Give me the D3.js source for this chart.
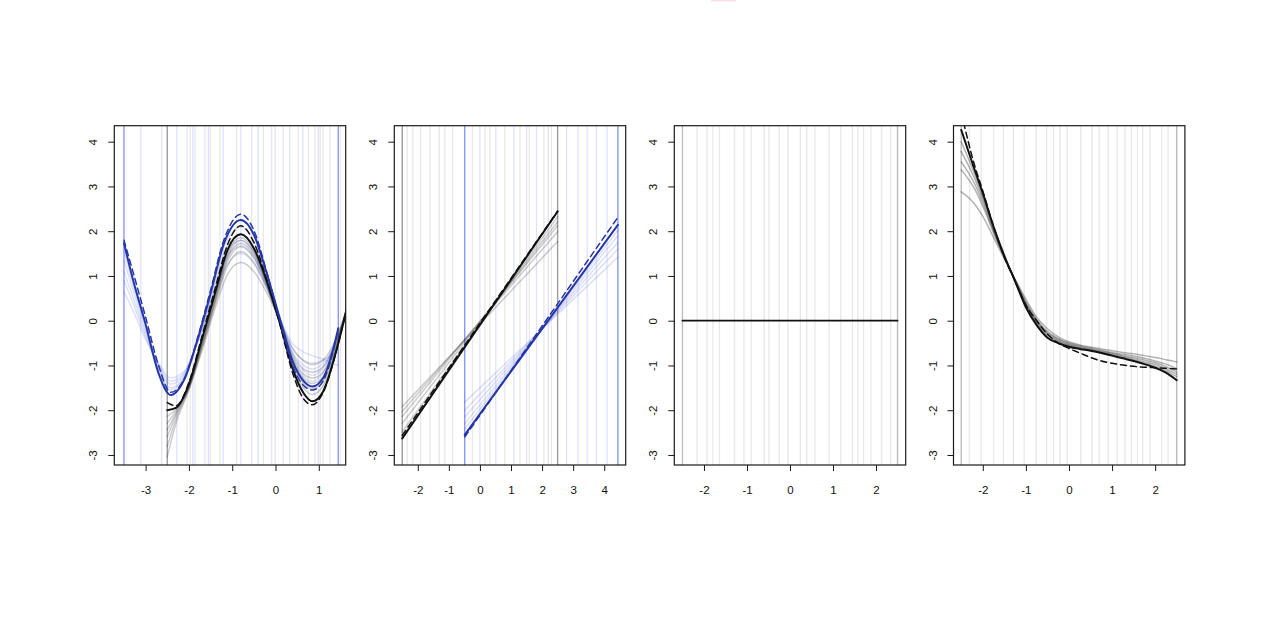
<!DOCTYPE html>
<html><head><meta charset="utf-8">
<script src="https://cdn.jsdelivr.net/npm/d3@7"></script>
<style>body{margin:0;background:#fff}svg{display:block}</style>
</head><body>
<svg id="c" width="1280" height="640"></svg>
<script>
// ---------- data ----------
const Y_TICKS = [-3,-2,-1,0,1,2,3,4];
const P1_XTICKS = [-3,-2,-1,0,1];
const P2_XTICKS = [-2,-1,0,1,2,3,4];
const P3_XTICKS = [-2,-1,0,1,2];
const P4_XTICKS = [-2,-1,0,1,2];

// vertical guide lines (data locations), first/last = boundaries
const P1_VG = [-2.5,-2.04,-1.97,-1.86,-1.63,-1.51,-1.28,-0.90,-0.55,-0.28,-0.09,0.18,0.53,0.76,0.91,1.03,1.10,1.26,1.5,2.5];
const P1_VB = [-3.5,-3.11,-2.63,-2.28,-1.91,-1.55,-1.21,-0.80,-0.40,-0.01,0.33,0.63,0.99,1.45];
const P2_VG = [-2.5,-2.34,-2.16,-1.91,-1.61,-1.31,-1.13,-0.88,-0.24,0.16,0.32,0.80,1.29,1.59,2.06,2.30,2.5];
const P2_VB = [-0.49,0.0,0.51,1.09,1.5,1.82,2.2,2.79,3.16,3.45,3.75,4.09,4.44];
const P3_VG = [-2.5,-2.16,-1.93,-1.79,-1.64,-1.29,-1.07,-0.90,-0.60,-0.49,-0.25,-0.05,0.24,0.39,0.58,0.91,1.18,1.45,1.58,1.71,1.88,2.13,2.34,2.5];
const P4_VG = [-2.5,-2.31,-2.04,-1.75,-1.52,-1.29,-1.04,-0.76,-0.52,-0.36,-0.21,-0.04,0.27,0.53,0.70,0.91,1.12,1.30,1.45,1.59,1.71,1.88,2.15,2.30,2.5];

// panel 1 : black set
const P1A_X    = [-2.5,-2.3,-2.0,-1.7,-1.4,-1.1,-0.8,-0.5,-0.2,0.1,0.4,0.65,0.85,1.1,1.4,1.65];
const P1A_FIT  = [-2.00,-1.95,-1.42,-0.42,0.60,1.60,1.93,1.62,0.88,-0.05,-1.08,-1.62,-1.80,-1.58,-0.68,0.28];
const P1A_TRUE = [-1.83,-1.90,-1.38,-0.35,0.70,1.72,2.12,1.75,0.92,-0.08,-1.18,-1.75,-1.88,-1.60,-0.70,0.30];
const P1A_PATH = [
  [-2.14,-1.98,-1.45,-0.48,0.52,1.52,1.86,1.56,0.85,-0.05,-1.00,-1.50,-1.65,-1.45,-0.62,0.28],
  [-2.29,-2.02,-1.47,-0.52,0.48,1.47,1.80,1.52,0.83,-0.04,-0.95,-1.40,-1.52,-1.35,-0.58,0.28],
  [-2.44,-2.07,-1.48,-0.55,0.44,1.41,1.73,1.46,0.80,-0.03,-0.88,-1.30,-1.40,-1.25,-0.54,0.28],
  [-2.59,-2.12,-1.50,-0.58,0.40,1.34,1.65,1.40,0.77,-0.02,-0.82,-1.20,-1.28,-1.15,-0.50,0.28],
  [-2.81,-2.20,-1.52,-0.62,0.35,1.24,1.54,1.30,0.72,-0.01,-0.75,-1.08,-1.15,-1.03,-0.46,0.28],
  [-3.04,-2.30,-1.55,-0.68,0.26,1.05,1.30,1.10,0.62,0.00,-0.62,-0.90,-0.98,-0.88,-0.40,0.28]
];
// panel 1 : blue set
const P1B_X    = [-3.5,-3.3,-3.0,-2.7,-2.42,-2.1,-1.8,-1.5,-1.2,-0.8,-0.5,-0.2,0.1,0.4,0.65,0.85,1.1,1.3,1.45];
const P1B_FIT  = [1.73,0.95,-0.08,-1.18,-1.66,-1.30,-0.42,0.61,1.70,2.25,1.92,1.05,0.05,-0.92,-1.35,-1.47,-1.28,-0.75,-0.17];
const P1B_TRUE = [1.80,1.12,0.08,-1.00,-1.60,-1.28,-0.38,0.68,1.78,2.38,2.02,1.08,0.00,-1.02,-1.45,-1.55,-1.35,-0.80,-0.18];
const P1B_PATH = [
  [1.55,0.85,-0.12,-1.12,-1.55,-1.25,-0.42,0.58,1.62,2.10,1.78,0.98,0.05,-0.88,-1.25,-1.35,-1.15,-0.68,-0.25],
  [1.35,0.72,-0.20,-1.08,-1.50,-1.22,-0.44,0.52,1.50,1.95,1.65,0.92,0.05,-0.80,-1.12,-1.22,-1.05,-0.68,-0.35],
  [1.10,0.55,-0.28,-1.02,-1.42,-1.18,-0.46,0.45,1.38,1.80,1.52,0.86,0.05,-0.72,-1.00,-1.08,-0.95,-0.70,-0.50],
  [0.90,0.42,-0.35,-0.98,-1.35,-1.15,-0.48,0.40,1.28,1.68,1.42,0.80,0.05,-0.64,-0.88,-0.95,-0.88,-0.78,-0.72],
  [0.65,0.25,-0.42,-0.95,-1.28,-1.12,-0.50,0.32,1.10,1.50,1.28,0.72,0.05,-0.52,-0.70,-0.78,-0.86,-0.95,-1.00]
];

// panel 2
const P2A_X    = [-2.5, 2.5];
const P2A_FIT  = [-2.63, 2.44];
const P2A_TRUE = [-2.56, 2.45];
const P2A_PATH = [[-2.48,2.32],[-2.29,2.21],[-2.14,2.12],[-2.03,1.99],[-1.92,1.77]];
const P2B_X    = [-0.49, 4.44];
const P2B_FIT  = [-2.55, 2.14];
const P2B_TRUE = [-2.60, 2.31];
const P2B_PATH = [[-2.42,2.02],[-2.30,1.90],[-2.15,1.75],[-2.00,1.60],[-1.82,1.42]];

// panel 3
const P3_X   = [-2.5, 2.5];
const P3_FIT = [0, 0];

// panel 4
const P4_X    = [-2.5,-2.2,-2.0,-1.75,-1.5,-1.25,-1.0,-0.75,-0.5,-0.25,0,0.25,0.5,0.75,1.0,1.25,1.5,1.75,2.0,2.25,2.5];
const P4_FIT  = [4.26,3.40,2.85,2.10,1.45,0.88,0.30,-0.10,-0.38,-0.50,-0.58,-0.63,-0.67,-0.72,-0.78,-0.84,-0.90,-0.97,-1.05,-1.16,-1.33];
const P4_TRUE = [4.65,3.50,2.90,2.10,1.42,0.88,0.35,0.00,-0.30,-0.50,-0.62,-0.72,-0.82,-0.90,-0.95,-0.99,-1.02,-1.04,-1.05,-1.06,-1.08];
const P4_PATH = [
  [4.00,3.30,2.78,2.07,1.44,0.88,0.33,-0.06,-0.33,-0.47,-0.56,-0.62,-0.66,-0.71,-0.77,-0.83,-0.89,-0.95,-1.02,-1.12,-1.25],
  [3.78,3.20,2.72,2.04,1.43,0.89,0.36,-0.03,-0.30,-0.45,-0.54,-0.60,-0.65,-0.70,-0.75,-0.80,-0.86,-0.92,-0.98,-1.08,-1.20],
  [3.55,3.08,2.64,2.00,1.42,0.90,0.39,0.00,-0.27,-0.42,-0.52,-0.58,-0.63,-0.68,-0.73,-0.78,-0.83,-0.88,-0.94,-1.03,-1.15],
  [3.37,2.96,2.56,1.96,1.41,0.91,0.42,0.03,-0.24,-0.40,-0.50,-0.56,-0.61,-0.66,-0.71,-0.75,-0.79,-0.84,-0.90,-0.97,-1.07],
  [2.88,2.62,2.33,1.86,1.38,0.93,0.48,0.08,-0.18,-0.36,-0.47,-0.54,-0.59,-0.63,-0.67,-0.71,-0.74,-0.78,-0.82,-0.87,-0.92]
];

// ---------- drawing ----------
const svg = d3.select("#c");
const FONT = "'Liberation Sans', Arial, Helvetica, sans-serif";
const TOP = 125.7, BOT = 465, W = 231.4;
const y = d3.scaleLinear().domain([-3.224, 4.357]).range([BOT, TOP]);
const BLUE = "#2536a8";

svg.append("rect").attr("x",711).attr("y",0).attr("width",25).attr("height",1.5).attr("fill","#fbdde3");

function panel(idx, left, xdom, xticks, cfg){
  const x = d3.scaleLinear().domain(xdom).range([left, left + W]);
  const g = svg.append("g");
  const cid = "clip" + idx;
  svg.append("clipPath").attr("id", cid).append("rect")
    .attr("x", left).attr("y", TOP).attr("width", W).attr("height", BOT - TOP);
  const pg = g.append("g").attr("clip-path", `url(#${cid})`);

  const vl = (arr, col, bcol) => arr.forEach((v,i) => {
    const b = (i === 0 || i === arr.length-1);
    pg.append("line").attr("x1", x(v)).attr("x2", x(v)).attr("y1", TOP).attr("y2", BOT)
      .attr("stroke", b ? bcol : col).attr("stroke-width", b ? 1.4 : 1.3);
  });
  if (cfg.vg) vl(cfg.vg, "#e8e8e8", cfg.gb || "#9c9c9c");
  if (cfg.vb) vl(cfg.vb, "#dfe1ff", "#8d95ff");

  const draw = (xs, ys, stroke, w, dash) => {
    const line = d3.line().x((d,i) => x(xs[i])).y(d => y(d)).curve(d3.curveMonotoneX);
    pg.append("path").attr("d", line(ys)).attr("fill","none").attr("stroke", stroke)
      .attr("stroke-width", w).attr("stroke-dasharray", dash || null)
      .attr("stroke-linejoin","round").attr("stroke-linecap","round");
  };
  cfg.series.forEach(s => draw(s[0], s[1], s[2], s[3], s[4]));

  g.append("rect").attr("x", left).attr("y", TOP).attr("width", W).attr("height", BOT - TOP)
    .attr("fill","none").attr("stroke","#1a1a1a").attr("stroke-width",1.2);

  const ax = g.append("g").attr("transform", `translate(0,${BOT})`)
    .call(d3.axisBottom(x).tickValues(xticks).tickSize(6).tickSizeOuter(0).tickPadding(15).tickFormat(d => String(d)));
  ax.select(".domain").remove();
  ax.selectAll("line").attr("stroke","#1a1a1a");
  ax.selectAll("text").attr("font-family", FONT).attr("font-size", 11.5).attr("fill","#111");

  const ay = g.append("g").attr("transform", `translate(${left},0)`)
    .call(d3.axisLeft(y).tickValues(Y_TICKS).tickSize(6).tickSizeOuter(0).tickFormat(d => String(d)));
  ay.select(".domain").remove();
  ay.selectAll("line").attr("stroke","#1a1a1a");
  ay.selectAll("text").attr("x", 0).attr("dy", 0).attr("transform","translate(-17,0) rotate(-90)")
    .attr("text-anchor","middle").attr("font-family", FONT).attr("font-size", 11.5).attr("fill","#111");
}

const GRAY1 = "rgba(0,0,0,0.2)", LBLUE = "rgba(40,60,210,0.16)";
panel(1, 114.3, [-3.723, 1.621], P1_XTICKS, {
  vg: P1_VG, vb: P1_VB,
  series: [
    ...P1A_PATH.map(ys => [P1A_X, ys, GRAY1, 1.5]),
    ...P1B_PATH.map(ys => [P1B_X, ys, LBLUE, 1.5]),
    [P1A_X, P1A_FIT, "#111", 2.0],
    [P1A_X, P1A_TRUE, "#111", 1.5, "6,4"],
    [P1B_X, P1B_FIT, BLUE, 2.0],
    [P1B_X, P1B_TRUE, BLUE, 1.5, "6,4"]
  ]
});

panel(2, 394.3, [-2.756, 4.691], P2_XTICKS, {
  vg: P2_VG, vb: P2_VB,
  series: [
    ...P2A_PATH.map(ys => [P2A_X, ys, GRAY1, 1.5]),
    ...P2B_PATH.map(ys => [P2B_X, ys, LBLUE, 1.5]),
    [P2A_X, P2A_TRUE, "#111", 1.5, "6,4"],
    [P2A_X, P2A_FIT, "#111", 2.0],
    [P2B_X, P2B_TRUE, BLUE, 1.5, "6,4"],
    [P2B_X, P2B_FIT, BLUE, 2.0]
  ]
});

panel(3, 674.3, [-2.69, 2.69], P3_XTICKS, {
  vg: P3_VG, gb: "#bdbdbd",
  series: [[P3_X, P3_FIT, "#111", 1.8]]
});

panel(4, 953.5, [-2.68, 2.69], P4_XTICKS, {
  vg: P4_VG, gb: "#bdbdbd",
  series: [
    ...P4_PATH.map(ys => [P4_X, ys, "rgba(0,0,0,0.3)", 1.5]),
    [P4_X, P4_TRUE, "#111", 1.5, "6,4"],
    [P4_X, P4_FIT, "#111", 2.0]
  ]
});
</script>
</body></html>
